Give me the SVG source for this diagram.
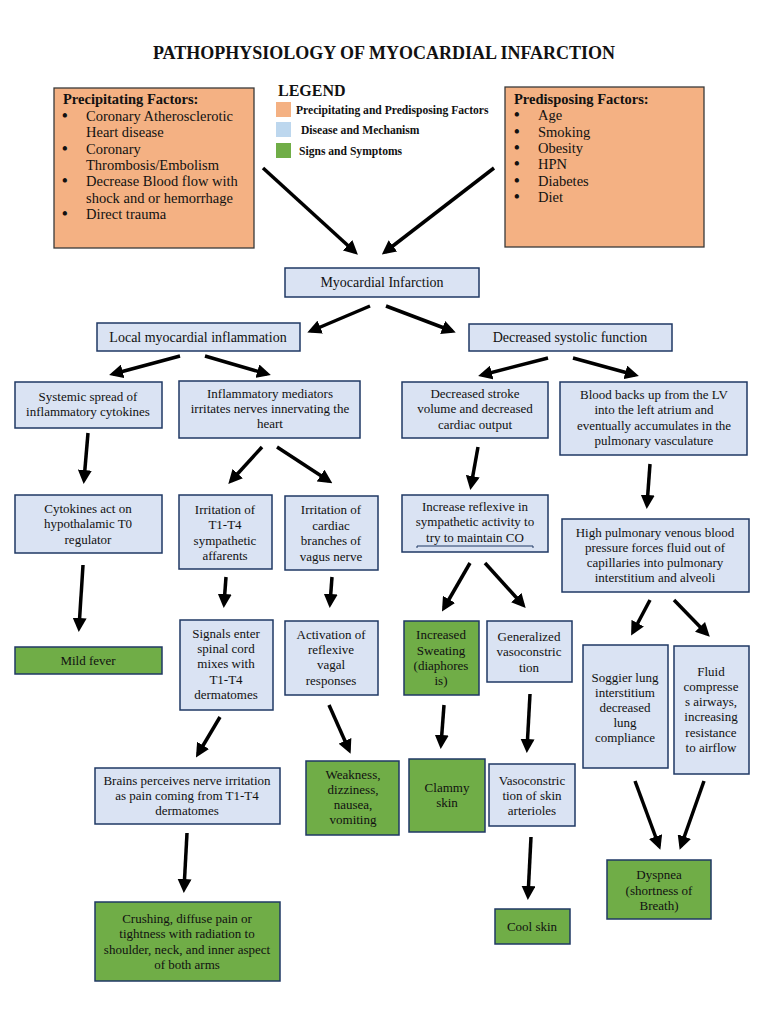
<svg xmlns="http://www.w3.org/2000/svg" width="768" height="1024" viewBox="0 0 768 1024">
<style>
text{font-family:"Liberation Serif","Times New Roman",serif;fill:#111;}
.t{font-size:13px;text-anchor:middle;}
.m{font-size:14px;text-anchor:middle;}
.f{font-size:14.5px;}
.fb{font-size:14.5px;font-weight:bold;}
.bu{font-size:16px;font-weight:bold;}
.lg{font-size:11.6px;font-weight:bold;}
.o{fill:#F4B183;stroke:#3a3a3a;stroke-width:1.3;}
.b{fill:#DAE3F3;stroke:#1F3864;stroke-width:1.5;}
.g{fill:#70AD47;stroke:#1F3864;stroke-width:1.5;}
.a{stroke:#000;stroke-width:3.5;fill:none;marker-end:url(#ah);}
</style>
<defs>
<marker id="ah" markerUnits="userSpaceOnUse" markerWidth="14" markerHeight="14" viewBox="0 0 14 14" refX="10" refY="7" orient="auto">
<path d="M0,0 L14,7 L0,14 z" fill="#000"/>
</marker>
</defs>
<rect width="768" height="1024" fill="#fff"/>
<text x="384" y="59" style="font-size:18px;font-weight:bold;text-anchor:middle">PATHOPHYSIOLOGY OF MYOCARDIAL INFARCTION</text>

<g id="precipitating">
<rect class="o" x="54" y="88" width="200" height="160"/>
<text class="fb" x="63" y="104">Precipitating Factors:</text>
<g class="f">
<text class="bu" x="62" y="121">•</text><text x="86" y="121">Coronary Atherosclerotic</text>
<text x="86" y="137">Heart disease</text>
<text class="bu" x="62" y="154">•</text><text x="86" y="154">Coronary</text>
<text x="86" y="170">Thrombosis/Embolism</text>
<text class="bu" x="62" y="186">•</text><text x="86" y="186">Decrease Blood flow with</text>
<text x="86" y="203">shock and or hemorrhage</text>
<text class="bu" x="62" y="219">•</text><text x="86" y="219">Direct trauma</text>
</g>
</g>

<g id="legend">
<text x="278" y="96" style="font-size:16px;font-weight:bold">LEGEND</text>
<rect x="276" y="102" width="15" height="15" fill="#F4B183"/>
<text class="lg" x="296" y="114">Precipitating and Predisposing Factors</text>
<rect x="276" y="122" width="15" height="15" fill="#BDD7EE"/>
<text class="lg" x="301" y="134">Disease and Mechanism</text>
<rect x="276" y="143" width="15" height="15" fill="#70AD47"/>
<text class="lg" x="299" y="155">Signs and Symptoms</text>
</g>

<g id="predisposing">
<rect class="o" x="505" y="87" width="199" height="160"/>
<text class="fb" x="514" y="104">Predisposing Factors:</text>
<g class="f">
<text class="bu" x="514" y="120">•</text><text x="538" y="120">Age</text>
<text class="bu" x="514" y="137">•</text><text x="538" y="137">Smoking</text>
<text class="bu" x="514" y="153">•</text><text x="538" y="153">Obesity</text>
<text class="bu" x="514" y="169">•</text><text x="538" y="169">HPN</text>
<text class="bu" x="514" y="186">•</text><text x="538" y="186">Diabetes</text>
<text class="bu" x="514" y="202">•</text><text x="538" y="202">Diet</text>
</g>
</g>

<g id="mi"><rect class="b" x="285" y="268" width="194" height="29"/><text class="m" x="382" y="287">Myocardial Infarction</text></g>
<g id="local"><rect class="b" x="97" y="323" width="203" height="28"/><text class="m" x="198" y="342">Local myocardial inflammation</text></g>
<g id="systolic"><rect class="b" x="469" y="324" width="203" height="27"/><text class="m" x="570" y="342">Decreased systolic function</text></g>

<g id="systemic"><rect class="b" x="15" y="382" width="147" height="46"/>
<text class="t" x="88" y="401">Systemic spread of</text><text class="t" x="88" y="416">inflammatory cytokines</text></g>
<g id="mediators"><rect class="b" x="179" y="381" width="181" height="57"/>
<text class="t" x="270" y="398">Inflammatory mediators</text><text class="t" x="270" y="413">irritates nerves innervating the</text><text class="t" x="270" y="428">heart</text></g>
<g id="stroke"><rect class="b" x="402" y="382" width="146" height="56"/>
<text class="t" x="475" y="398">Decreased stroke</text><text class="t" x="475" y="413">volume and decreased</text><text class="t" x="475" y="429">cardiac output</text></g>
<g id="backs"><rect class="b" x="560" y="382" width="187" height="73"/>
<text class="t" x="654" y="399">Blood backs up from the LV</text><text class="t" x="654" y="414">into the left atrium and</text><text class="t" x="654" y="430">eventually accumulates in the</text><text class="t" x="654" y="445">pulmonary vasculature</text></g>

<g id="cytokines"><rect class="b" x="15" y="495" width="147" height="58"/>
<text class="t" x="88" y="513">Cytokines act on</text><text class="t" x="88" y="528">hypothalamic T0</text><text class="t" x="88" y="544">regulator</text></g>
<g id="irrT"><rect class="b" x="179" y="495" width="93" height="74"/>
<text class="t" x="225" y="514">Irritation of</text><text class="t" x="225" y="529">T1-T4</text><text class="t" x="225" y="545">sympathetic</text><text class="t" x="225" y="560">affarents</text></g>
<g id="irrV"><rect class="b" x="285" y="496" width="93" height="74"/>
<text class="t" x="331" y="514">Irritation of</text><text class="t" x="331" y="530">cardiac</text><text class="t" x="331" y="545">branches of</text><text class="t" x="331" y="561">vagus nerve</text></g>
<g id="reflexive"><rect class="b" x="402" y="495" width="146" height="57"/>
<text class="t" x="475" y="511">Increase reflexive in</text><text class="t" x="475" y="526">sympathetic activity to</text><text class="t" x="475" y="542">try to maintain CO</text>
<path d="M417,548 V546 H533 V548" fill="none" stroke="#1F3864" stroke-width="1"/></g>
<g id="highpulm"><rect class="b" x="562" y="519" width="187" height="73"/>
<text class="t" x="655" y="537">High pulmonary venous blood</text><text class="t" x="655" y="552">pressure forces fluid out of</text><text class="t" x="655" y="567">capillaries into pulmonary</text><text class="t" x="655" y="582">interstitium and alveoli</text></g>

<g id="fever"><rect class="g" x="15" y="647" width="147" height="27"/><text class="t" x="88" y="665">Mild fever</text></g>
<g id="signals"><rect class="b" x="180" y="620" width="93" height="90"/>
<text class="t" x="226" y="638">Signals enter</text><text class="t" x="226" y="653">spinal cord</text><text class="t" x="226" y="668">mixes with</text><text class="t" x="226" y="684">T1-T4</text><text class="t" x="226" y="699">dermatomes</text></g>
<g id="vagal"><rect class="b" x="285" y="621" width="93" height="74"/>
<text class="t" x="331" y="639">Activation of</text><text class="t" x="331" y="654">reflexive</text><text class="t" x="331" y="669">vagal</text><text class="t" x="331" y="685">responses</text></g>
<g id="sweating"><rect class="g" x="404" y="621" width="75" height="74"/>
<text class="t" x="441" y="639">Increased</text><text class="t" x="441" y="655">Sweating</text><text class="t" x="441" y="670">(diaphores</text><text class="t" x="441" y="685">is)</text></g>
<g id="genvaso"><rect class="b" x="487" y="621" width="85" height="61"/>
<text class="t" x="529" y="641">Generalized</text><text class="t" x="529" y="656">vasoconstric</text><text class="t" x="529" y="672">tion</text></g>
<g id="soggier"><rect class="b" x="583" y="645" width="85" height="123"/>
<text class="t" x="625" y="682">Soggier lung</text><text class="t" x="625" y="697">interstitium</text><text class="t" x="625" y="712">decreased</text><text class="t" x="625" y="727">lung</text><text class="t" x="625" y="742">compliance</text></g>
<g id="fluid"><rect class="b" x="674" y="646" width="75" height="128"/>
<text class="t" x="711" y="676">Fluid</text><text class="t" x="711" y="691">compresse</text><text class="t" x="711" y="706">s airways,</text><text class="t" x="711" y="721">increasing</text><text class="t" x="711" y="737">resistance</text><text class="t" x="711" y="752">to airflow</text></g>

<g id="brains"><rect class="b" x="95" y="768" width="185" height="56"/>
<text class="t" x="187" y="785">Brains perceives nerve irritation</text><text class="t" x="187" y="800">as pain coming from T1-T4</text><text class="t" x="187" y="815">dermatomes</text></g>
<g id="weakness"><rect class="g" x="306" y="761" width="93" height="74"/>
<text class="t" x="353" y="779">Weakness,</text><text class="t" x="353" y="794">dizziness,</text><text class="t" x="353" y="809">nausea,</text><text class="t" x="353" y="824">vomiting</text></g>
<g id="clammy"><rect class="g" x="409" y="759" width="76" height="73"/>
<text class="t" x="447" y="792">Clammy</text><text class="t" x="447" y="807">skin</text></g>
<g id="vasoskin"><rect class="b" x="489" y="764" width="86" height="62"/>
<text class="t" x="532" y="785">Vasoconstric</text><text class="t" x="532" y="800">tion of skin</text><text class="t" x="532" y="815">arterioles</text></g>
<g id="dyspnea"><rect class="g" x="607" y="860" width="104" height="59"/>
<text class="t" x="659" y="879">Dyspnea</text><text class="t" x="659" y="895">(shortness of</text><text class="t" x="659" y="910">Breath)</text></g>
<g id="crushing"><rect class="g" x="95" y="902" width="185" height="79"/>
<text class="t" x="187" y="923">Crushing, diffuse pain or</text><text class="t" x="187" y="938">tightness with radiation to</text><text class="t" x="187" y="954">shoulder, neck, and inner aspect</text><text class="t" x="187" y="969">of both arms</text></g>
<g id="coolskin"><rect class="g" x="495" y="909" width="75" height="35"/><text class="t" x="532" y="931">Cool skin</text></g>

<g id="connectors">
<line class="a" x1="263" y1="168" x2="355" y2="252"/>
<line class="a" x1="494" y1="168" x2="385" y2="252"/>
<line class="a" x1="370" y1="306" x2="311" y2="331"/>
<line class="a" x1="386" y1="306" x2="452" y2="331"/>
<line class="a" x1="180" y1="356" x2="113" y2="374"/>
<line class="a" x1="205" y1="356" x2="267" y2="374"/>
<line class="a" x1="548" y1="358" x2="482" y2="375"/>
<line class="a" x1="573" y1="358" x2="635" y2="375"/>
<line class="a" x1="88" y1="433" x2="84" y2="480"/>
<line class="a" x1="262" y1="447" x2="231" y2="481"/>
<line class="a" x1="277" y1="447" x2="329" y2="481"/>
<line class="a" x1="478" y1="447" x2="471" y2="486"/>
<line class="a" x1="650" y1="464" x2="647" y2="505"/>
<line class="a" x1="83" y1="565" x2="79" y2="628"/>
<line class="a" x1="226" y1="577" x2="224" y2="604"/>
<line class="a" x1="332" y1="577" x2="330" y2="604"/>
<line class="a" x1="470" y1="563" x2="444" y2="608"/>
<line class="a" x1="485" y1="563" x2="523" y2="605"/>
<line class="a" x1="650" y1="600" x2="633" y2="632"/>
<line class="a" x1="674" y1="600" x2="707" y2="634"/>
<line class="a" x1="220" y1="717" x2="198" y2="754"/>
<line class="a" x1="329" y1="705" x2="349" y2="750"/>
<line class="a" x1="444" y1="705" x2="441" y2="745"/>
<line class="a" x1="530" y1="694" x2="527" y2="749"/>
<line class="a" x1="635" y1="781" x2="659" y2="846"/>
<line class="a" x1="704" y1="781" x2="681" y2="846"/>
<line class="a" x1="187" y1="833" x2="184" y2="889"/>
<line class="a" x1="531" y1="837" x2="528" y2="896"/>
</g>
</svg>
